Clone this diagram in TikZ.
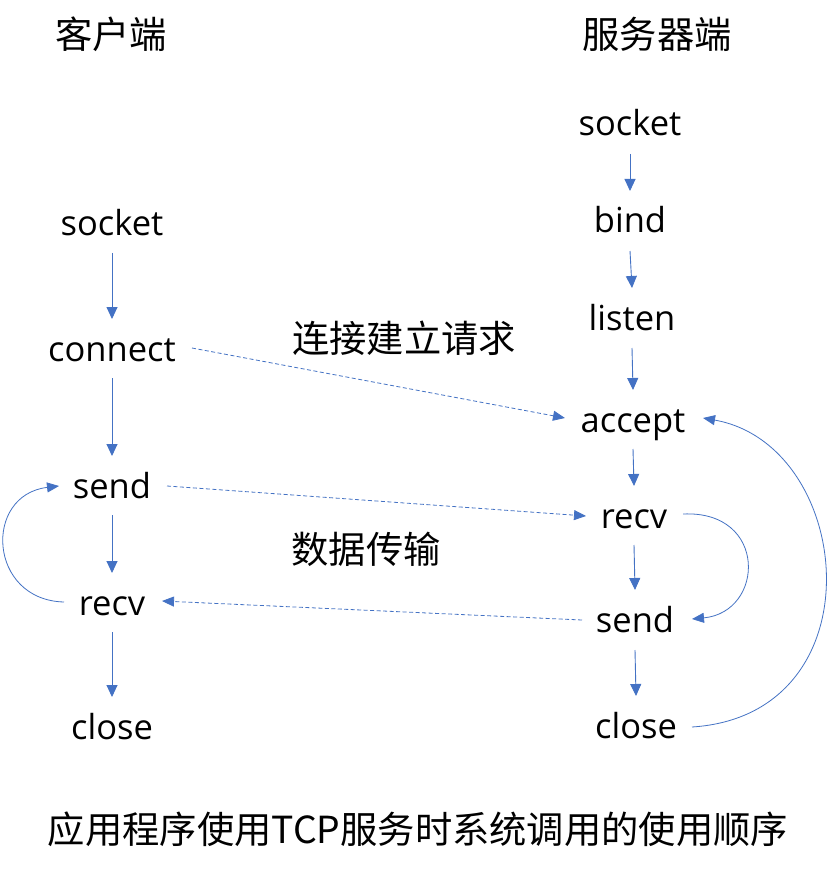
\documentclass[tikz,border=0pt]{standalone}
\usepackage{fontspec}
\setmainfont{Open Sans}
\newfontfamily\cjk{Noto Sans CJK SC}
\usetikzlibrary{arrows.meta}
\definecolor{lineblue}{HTML}{4472C4}
\tikzset{
  lat/.style={inner sep=0pt, anchor=base, font=\fontsize{34.5}{40}\selectfont},
  zh/.style={inner sep=0pt, anchor=center, text height=29pt, text depth=3pt, font=\cjk\fontsize{37.3}{44}\selectfont},
  arr/.style={draw=lineblue, line width=0.9pt, -{Triangle[length=12pt,width=11pt]}, color=lineblue},
  darr/.style={draw=lineblue, line width=0.8pt, dash pattern=on 4pt off 2.5pt, -{Triangle[length=12pt,width=10pt]}, color=lineblue},
  carr/.style={draw=lineblue, line width=0.8pt, -{Triangle[length=12pt,width=10pt]}, color=lineblue},
}
\begin{document}
\begin{tikzpicture}[x=1pt,y=-1pt]
\fill[white] (0,0) rectangle (828,874);
\useasboundingbox (0,0) rectangle (828,874);
% titles
\node[zh] (tc) at (111,36) {客户端};
\node[zh] (ts) at (657,36) {服务器端};
% client
\node[lat] (s1) at (112,236) {socket};
\node[lat] (c1) at (112,361) {connect};
\node[lat] (sd1) at (112,498) {send};
\node[lat] (rv1) at (112,615) {recv};
\node[lat] (cl1) at (112,739) {close};
% server
\node[lat] (s2) at (630,136) {socket};
\node[lat] (b2) at (630,233) {bind};
\node[lat] (l2) at (632,330) {listen};
\node[lat] (a2) at (633,432) {accept};
\node[lat] (rv2) at (634,528) {recv};
\node[lat] (sd2) at (635,632) {send};
\node[lat] (cl2) at (636,738) {close};
% labels
\node[zh] (lb1) at (404,339) {连接建立请求};
\node[zh] (lb2) at (366,550) {数据传输};
\node[zh] (cap) at (418,830) {应用程序使用TCP服务时系统调用的使用顺序};
% vertical arrows
\draw[arr] ([yshift=-17pt]s1.base) -- ([yshift=42pt]c1.base);
\draw[arr] ([yshift=-17pt]c1.base) -- ([yshift=42pt]sd1.base);
\draw[arr] ([yshift=-17pt]sd1.base) -- ([yshift=42pt]rv1.base);
\draw[arr] ([yshift=-17pt]rv1.base) -- ([yshift=42pt]cl1.base);
\draw[arr] ([yshift=-18pt]s2.base) -- ([yshift=42pt]b2.base);
\draw[arr] ([yshift=-18pt]b2.base) -- ([yshift=42pt]l2.base);
\draw[arr] ([yshift=-18pt]l2.base) -- ([yshift=42pt]a2.base);
\draw[arr] ([yshift=-17pt]a2.base) -- ([yshift=42pt]rv2.base);
\draw[arr] ([yshift=-17pt]rv2.base) -- ([yshift=42pt]sd2.base);
\draw[arr] ([yshift=-18pt]sd2.base) -- ([yshift=42pt]cl2.base);
% dashed
\draw[darr] ([shift={(80pt,13pt)}]c1.base) -- ([shift={(-68pt,14pt)}]a2.base);
\draw[darr] ([shift={(55pt,12pt)}]sd1.base) -- ([shift={(-48pt,12pt)}]rv2.base);
\draw[darr] ([shift={(-53pt,12pt)}]sd2.base) -- ([shift={(50pt,14pt)}]rv1.base);
% loops
\draw[carr] ([shift={(-48pt,13pt)}]rv1.base) .. controls (-12,600) and (-17,495) .. ([shift={(-53pt,12pt)}]sd1.base);
\draw[carr] ([shift={(49pt,14pt)}]rv2.base) .. controls (768,510) and (765,612) .. ([shift={(57pt,13pt)}]sd2.base);
\draw[carr] ([shift={(56pt,11pt)}]cl2.base) .. controls (880,715) and (855,445) .. ([shift={(70pt,14pt)}]a2.base);
\end{tikzpicture}
\end{document}
